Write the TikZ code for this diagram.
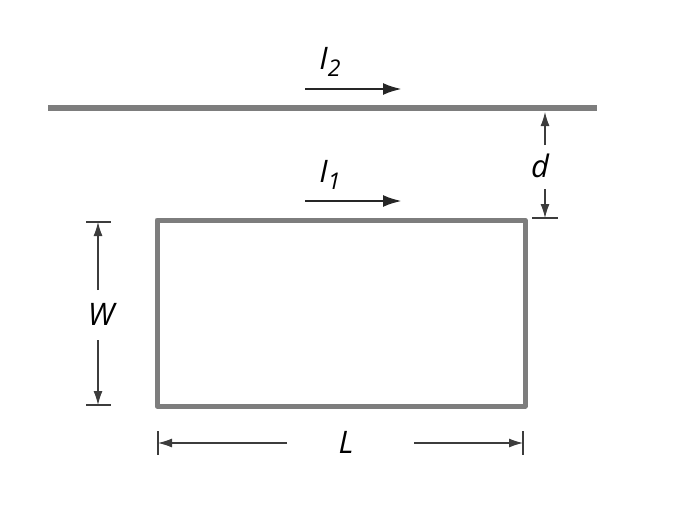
\documentclass[tikz,border=0pt]{standalone}
\usepackage{fontspec}
\setmainfont{Open Sans}
\usetikzlibrary{arrows.meta}
\definecolor{wiregray}{RGB}{125,125,125}
\definecolor{dimgray}{RGB}{60,60,60}
\tikzset{
  wire/.style={draw=wiregray, line width=6pt},
  loop/.style={draw=wiregray, line width=5pt, line join=round},
  current/.style={draw=black!85, line width=2.8pt, -{Latex[length=19pt,width=12pt]}},
  dimline/.style={draw=dimgray, line width=1.1pt, -{Latex[length=14pt,width=9pt]}},
  tick/.style={draw=dimgray, line width=1.1pt},
  lbl/.style={font=\fontsize{31}{36}\selectfont\itshape, inner sep=0pt, text=black}
}
\newcommand{\subsc}[1]{\raisebox{-7pt}{\fontsize{23}{26}\selectfont\itshape #1}}
\begin{document}
\begin{tikzpicture}[x=1pt,y=-1pt]
\useasboundingbox (0,0) rectangle (700,504);
% wire
\coordinate (wL) at (48,108);
\coordinate (wR) at (597,108);
\draw[wire] (wL) -- (wR);
% loop
\coordinate (rA) at (157,220);
\coordinate (rB) at (525,406);
\draw[loop] (rA) rectangle (rB);
% currents
\coordinate (i2s) at (305,89); \coordinate (i2e) at (402,89);
\draw[current] (i2s) -- (i2e);
\node[lbl] (I2) at (330,62) {I\subsc{2}};
\coordinate (i1s) at (305,201); \coordinate (i1e) at (402,201);
\draw[current] (i1s) -- (i1e);
\node[lbl] (I1) at (330,175) {I\subsc{1}};
% d
\node[lbl] (d) at (540,166) {d};
\coordinate (dtop) at (545,112); \coordinate (du) at (545,145);
\coordinate (dd) at (545,189); \coordinate (dbot) at (545,218);
\draw[dimline] (du) -- (dtop);
\draw[dimline] (dd) -- (dbot);
\coordinate (dt1) at (532,218); \coordinate (dt2) at (558,218);
\draw[tick] (dt1) -- (dt2);
% W
\node[lbl] (W) at (101,314) {W};
\coordinate (wt1) at (86,222); \coordinate (wt2) at (111,222);
\coordinate (wb1) at (86,405); \coordinate (wb2) at (111,405);
\draw[tick] (wt1) -- (wt2);
\draw[tick] (wb1) -- (wb2);
\coordinate (wa) at (98,290); \coordinate (wat) at (98,222);
\coordinate (wb) at (98,340); \coordinate (wbt) at (98,405);
\draw[dimline] (wa) -- (wat);
\draw[dimline] (wb) -- (wbt);
% L
\node[lbl] (L) at (346,442) {L};
\coordinate (lt1) at (158,431); \coordinate (lt2) at (158,455);
\coordinate (rt1) at (523,431); \coordinate (rt2) at (523,455);
\draw[tick] (lt1) -- (lt2);
\draw[tick] (rt1) -- (rt2);
\coordinate (la) at (287,443); \coordinate (lat) at (158,443);
\coordinate (lb) at (414,443); \coordinate (lbt) at (523,443);
\draw[dimline] (la) -- (lat);
\draw[dimline] (lb) -- (lbt);
\end{tikzpicture}
\end{document}
